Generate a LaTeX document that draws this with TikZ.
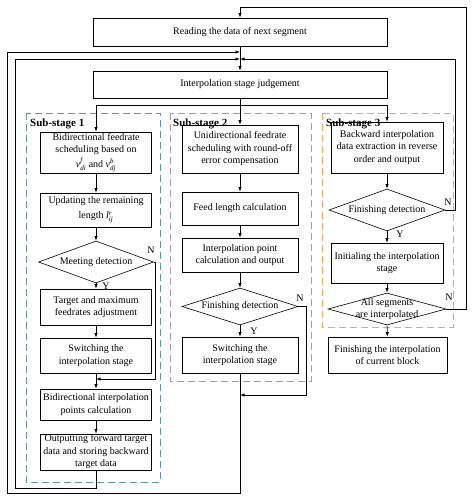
\documentclass[tikz,border=0pt]{standalone}
\usepackage{amsmath}
\usepackage{fontspec}
\setmainfont{Liberation Serif}
\usetikzlibrary{arrows.meta,shapes.geometric}
\definecolor{tealdash}{RGB}{95,150,165}
\definecolor{purpdash}{RGB}{160,155,190}
\definecolor{orgdash}{RGB}{240,165,100}
\newcommand{\itv}[3]{\textit{#1}$_{\text{\itshape #2}}^{\text{\itshape #3}}$}
\begin{document}
\begin{tikzpicture}[x=1pt,y=-1pt,
  box/.style={draw, line width=0.6pt, align=center, inner sep=1pt, font=\fontsize{10}{12.5}\selectfont},
  dec/.style={draw, diamond, line width=0.6pt, inner sep=0pt},
  lbl/.style={font=\fontsize{10}{11.5}\selectfont, align=center, inner sep=0pt},
  yn/.style={font=\fontsize{10}{12}\selectfont, inner sep=0pt},
  arr/.style={-{Latex[length=4.5pt,width=3.2pt]}, line width=0.6pt},
  ln/.style={line width=0.6pt},
  stg/.style={font=\fontsize{11}{13}\selectfont\bfseries, anchor=west, inner sep=0pt},
  sub/.style={line width=1pt, dash pattern=on 7pt off 4pt}
]
\useasboundingbox (0,0) rectangle (474,503);

% sub-stage frames
\draw[sub, tealdash] (26,113) rectangle (160,482);
\draw[sub, purpdash] (170,113) rectangle (311,381);
\draw[sub, orgdash] (322,113) rectangle (453,327);
\node[stg] (t1) at (30,124) {Sub-stage 1};
\node[stg] (t2) at (173,124) {Sub-stage 2};
\node[stg] (t3) at (326,124) {Sub-stage 3};

% main boxes
\node[box, minimum width=294pt, minimum height=28pt] (read) at (240,32) {Reading the data of next segment};
\node[box, minimum width=294pt, minimum height=27pt] (judge) at (240,84.5) {Interpolation stage judgement};

% sub-stage 1
\node[box, minimum width=111pt, minimum height=41pt, font=\fontsize{10}{12}\selectfont] (b1) at (96,152.5) {Bidirectional feedrate\\scheduling based on\\[2.5pt]\itv{v}{di}{f} and \itv{v}{dj}{b}};
\node[box, minimum width=111pt, minimum height=34pt] (b2) at (96,210) {Updating the remaining\\[2.5pt]length \itv{l}{ij}{r}};
\node[dec, minimum width=115pt, minimum height=42pt] (d1) at (96,262) {};
\node[lbl] at (d1) {Meeting detection};
\node[box, minimum width=111pt, minimum height=36pt] (b3) at (96,307) {Target and maximum\\feedrates adjustment};
\node[box, minimum width=111pt, minimum height=35pt] (b4) at (96,355.5) {Switching the\\interpolation stage};
\node[box, minimum width=111pt, minimum height=31pt] (b5) at (96,404.5) {Bidirectional interpolation\\points calculation};
\node[box, minimum width=111pt, minimum height=36pt] (b6) at (96,452) {Outputting forward target\\data and storing backward\\target data};

% sub-stage 2
\node[box, minimum width=116pt, minimum height=48pt] (u1) at (240,149) {Unidirectional feedrate\\scheduling with round-off\\error compensation};
\node[box, minimum width=116pt, minimum height=33pt] (u2) at (240,208.5) {Feed length calculation};
\node[box, minimum width=116pt, minimum height=34pt] (u3) at (240,255) {Interpolation point\\calculation and output};
\node[dec, minimum width=116pt, minimum height=37pt] (d2) at (240,306.5) {};
\node[lbl] at (d2) {Finishing detection};
\node[box, minimum width=116pt, minimum height=36pt] (u4) at (240,355) {Switching the\\interpolation stage};

% sub-stage 3
\node[box, minimum width=112pt, minimum height=51pt] (s1) at (387,147.5) {Backward interpolation\\data extraction in reverse\\order and output};
\node[dec, minimum width=116pt, minimum height=42pt] (d3) at (387,210) {};
\node[lbl] at (d3) {Finishing detection};
\node[box, minimum width=112pt, minimum height=40pt] (s2) at (387,263) {Initialing the interpolation\\stage};
\node[dec, minimum width=118pt, minimum height=32pt] (d4) at (387,309) {};
\node[lbl] at (d4) {All segments\\are interpolated};
\node[box, minimum width=119pt, minimum height=36pt] (fin) at (387.5,355) {Finishing the interpolation\\of current block};

% Y / N labels
\node[yn] (y1) at (106,286) {Y};
\node[yn] (n1) at (151,250) {N};
\node[yn] (y2) at (254,331) {Y};
\node[yn] (n2) at (300,298) {N};
\node[yn] (y3) at (400,234) {Y};
\node[yn] (n3) at (448,202) {N};
\node[yn] (n4) at (449,297) {N};

% helper coordinates
\coordinate (br) at (240,105);
\coordinate (topR) at (466,7);
\coordinate (inR) at (455,59);
\coordinate (outL) at (7,493);
\coordinate (inL) at (15,488);
\coordinate (jA) at (240,52);
\coordinate (jB) at (240,59);
\coordinate (c1) at (155,379);
\coordinate (j1) at (96,379);
\coordinate (c2) at (306,395);
\coordinate (j2) at (240,395);

% main flow
\draw[arr] (read) -- (judge);
\draw[ln] (judge.south) -- (br);
\draw[arr] (br) -| (b1.north);
\draw[arr] (br) -- (u1.north);
\draw[arr] (br) -| (s1.north);

% sub-stage 1 flow
\draw[arr] (b1) -- (b2);
\draw[arr] (b2) -- (d1);
\draw[arr] (d1) -- (b3);
\draw[arr] (b3) -- (b4);
\draw[arr] (b4) -- (b5);
\draw[arr] (b5) -- (b6);
\draw[arr] (d1.east) -| (c1) -- (j1);
\draw[arr] (b6.south) |- (inL) |- (jB);

% sub-stage 2 flow
\draw[arr] (u1) -- (u2);
\draw[arr] (u2) -- (u3);
\draw[arr] (u3) -- (d2);
\draw[arr] (d2) -- (u4);
\draw[arr] (d2.east) -| (c2) -- (j2);
\draw[arr] (u4.south) |- (outL) |- (jA);

% sub-stage 3 flow
\draw[arr] (s1) -- (d3);
\draw[arr] (d3) -- (s2);
\draw[arr] (s2) -- (d4);
\draw[arr] (d4) -- (fin);
\draw[arr] (d3.east) -| (inR) -- (jB);
\draw[arr] (d4.east) -| (topR) -| (read.north);

\end{tikzpicture}
\end{document}
